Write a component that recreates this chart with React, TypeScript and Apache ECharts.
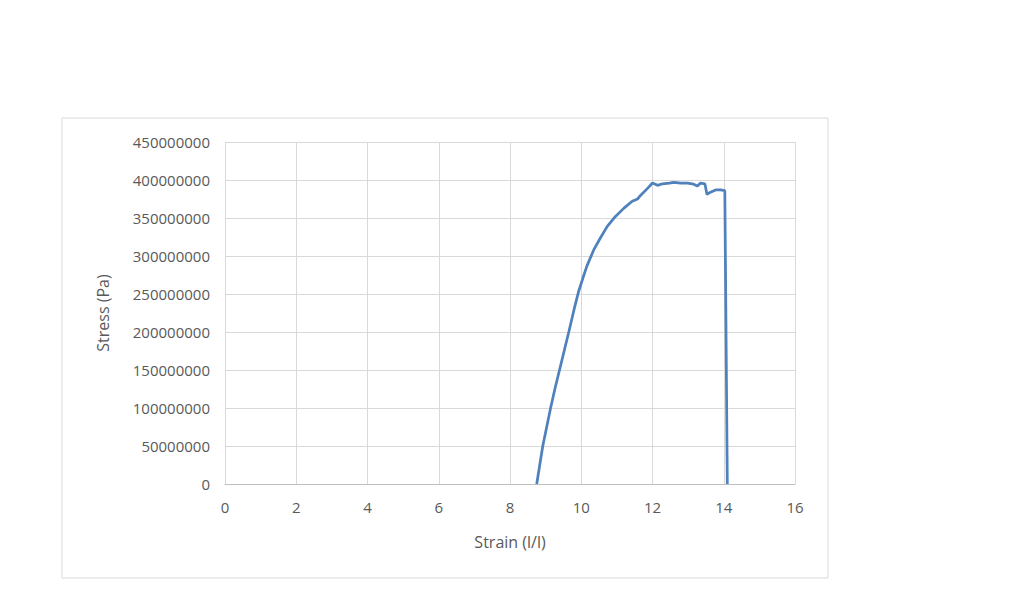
import { useEffect, useRef } from "react";
import * as echarts from "echarts";

// strain (l/l) and stress (MPa)
const strain = [
  8.75, 8.92, 9.03, 9.14, 9.26, 9.39, 9.52, 9.65, 9.8, 9.93, 10.04, 10.16,
  10.35, 10.54, 10.73, 10.96, 11.2, 11.43, 11.58, 11.67, 11.86, 12.0, 12.14,
  12.28, 12.47, 12.6, 12.79, 12.98, 13.12, 13.26, 13.35, 13.47, 13.53, 13.63,
  13.77, 13.91, 14.03, 14.1,
];
const stressMPa = [
  0, 50, 75, 100, 125, 150, 175, 200, 230, 254, 270, 287, 308, 324, 339, 352,
  363, 372, 375, 380, 389, 396, 393, 395, 396, 397, 396, 396, 395, 392, 396,
  395, 381, 384, 387, 387, 386, 0,
];

const xTicks = { min: 0, max: 16, interval: 2 };
const yTicks = { min: 0, max: 450000000, interval: 50000000 };

const FONT = "'Open Sans', 'Liberation Sans', sans-serif";
const TEXT = "#595959";
const GRID = "#d9d9d9";

export default function App() {
  const chartRef = useRef<HTMLDivElement>(null);

  useEffect(() => {
    if (!chartRef.current) return;
    const chart = echarts.init(chartRef.current, undefined, { renderer: "svg" });

    const data = strain.map((s, i) => [s, stressMPa[i] * 1e6]);

    const option: echarts.EChartsOption = {
      animation: false,
      backgroundColor: "#ffffff",
      textStyle: { fontFamily: FONT },
      graphic: [
        {
          type: "rect",
          shape: { x: 62, y: 118, width: 766, height: 460 },
          style: { fill: "none", stroke: GRID, lineWidth: 1 },
          silent: true,
        },
      ],
      grid: { left: 225, right: 229, top: 142, bottom: 122 },
      xAxis: {
        type: "value",
        ...xTicks,
        name: "Strain (l/l)",
        nameLocation: "middle",
        nameGap: 50,
        nameTextStyle: { color: TEXT, fontSize: 16, fontFamily: FONT },
        axisLine: { show: true, lineStyle: { color: "#bfbfbf", width: 1 } },
        axisTick: { show: false },
        axisLabel: { color: TEXT, fontSize: 15, margin: 15, fontFamily: FONT },
        splitLine: { show: true, lineStyle: { color: GRID, width: 1 } },
      },
      yAxis: {
        type: "value",
        ...yTicks,
        name: "Stress (Pa)",
        nameLocation: "middle",
        nameGap: 114,
        nameTextStyle: { color: TEXT, fontSize: 16, fontFamily: FONT },
        axisLine: { show: false },
        axisTick: { show: false },
        axisLabel: {
          color: TEXT,
          fontSize: 15,
          margin: 15,
          fontFamily: FONT,
          formatter: (v: number) => String(v),
        },
        splitLine: { show: true, lineStyle: { color: GRID, width: 1 } },
      },
      series: [
        {
          type: "line",
          data,
          showSymbol: false,
          symbol: "none",
          lineStyle: { color: "#4F81BD", width: 2.75 },
        },
      ],
    };

    chart.setOption(option);
    return () => chart.dispose();
  }, []);

  return (
    <div
      ref={chartRef}
      style={{ position: "absolute", left: 0, top: 0, width: 1024, height: 606 }}
    />
  );
}
